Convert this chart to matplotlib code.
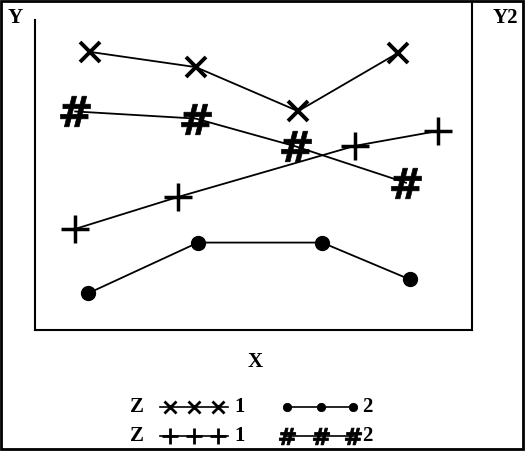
import matplotlib.pyplot as plt

plt.rcParams['font.family'] = ['Liberation Serif', 'DejaVu Serif']
plt.rcParams['font.weight'] = 'bold'

# series (arbitrary 0..10 units)
x_cross = [1.26, 3.68, 6.02, 8.31]
y_cross = [8.97, 8.48, 7.06, 8.94]
x_hash = [0.92, 3.68, 5.97, 8.49]
y_hash = [7.05, 6.82, 5.92, 4.75]
x_plus = [0.92, 3.27, 7.32, 9.22]
y_plus = [3.26, 4.29, 5.94, 6.42]
x_dot = [1.21, 3.73, 6.57, 8.58]
y_dot = [1.18, 2.82, 2.82, 1.63]

W, H = 525, 451
fig = plt.figure(figsize=(W / 100, H / 100), dpi=100)
ax = fig.add_axes([35 / W, 1 - 330 / H, 437 / W, 310 / H])
ax.set_xlim(0, 10)
ax.set_ylim(0, 10)
ax.set_xticks([])
ax.set_yticks([])
for s in ['top', 'right']:
    ax.spines[s].set_visible(False)
for s in ['left', 'bottom']:
    ax.spines[s].set_linewidth(1.5)

kw = dict(color='black', lw=1.3)
ax.plot(x_cross, y_cross, marker='x', ms=15, mew=2.8, **kw)
ax.plot(x_hash, y_hash, marker='$\\#$', ms=22, mew=0.5, **kw)
ax.plot(x_plus, y_plus, marker='+', ms=20, mew=2.5, **kw)
ax.plot(x_dot, y_dot, marker='o', ms=10, **kw)

# overlay in pixel coordinates for labels, legend, border
ov = fig.add_axes([0, 0, 1, 1], facecolor='none')
ov.set_xlim(0, W)
ov.set_ylim(H, 0)
ov.axis('off')
ov.add_patch(plt.Rectangle((1, 1), W - 3, H - 3, fill=False, lw=2, color='black'))
ov.plot([472, 472], [3, 330], color='black', lw=1.5)
tk = dict(fontsize=15, fontweight='bold', va='center')
ov.text(8, 18, 'Y', ha='left', **tk)
ov.text(518, 18, 'Y2', ha='right', **tk)
ov.text(255, 362, 'X', ha='center', **tk)

rows = [(407, 'x', 9, 2.0, 'o', 6), (436, '+', 12, 2.0, '$\\#$', 12)]
for y, m1, s1, w1, m2, s2 in rows:
    ov.text(130, y, 'Z', ha='left', **tk)
    ov.plot([160, 228], [y, y], color='black', lw=1.2)
    ov.plot([170, 194, 218], [y] * 3, ls='none', marker=m1, ms=s1, mew=w1, color='black')
    ov.text(234, y, '1', ha='left', **tk)
    ov.plot([285, 355], [y, y], color='black', lw=1.2)
    ov.plot([287, 321, 353], [y] * 3, ls='none', marker=m2, ms=s2, mew=0.6, color='black')
    ov.text(362, y, '2', ha='left', **tk)

fig.savefig('out.png', dpi=100)
